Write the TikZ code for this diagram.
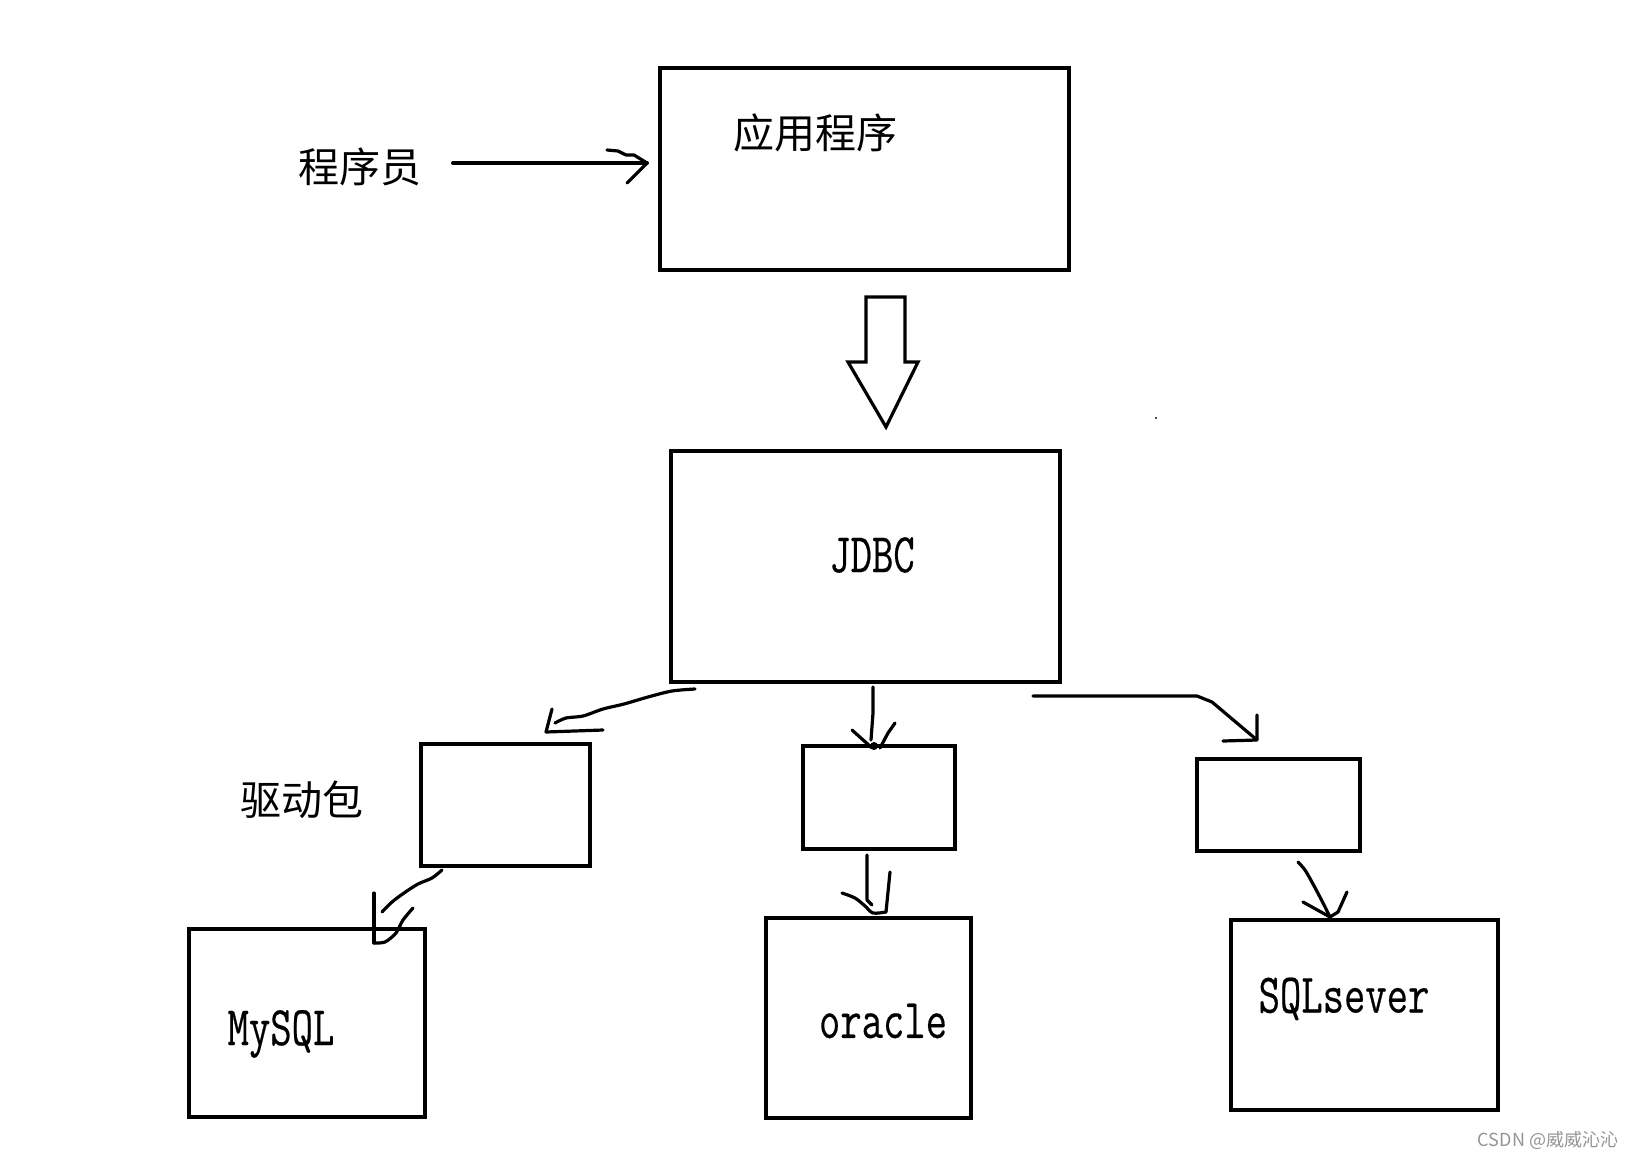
\documentclass[tikz,border=0pt]{standalone}
\usepackage{fontspec}
\newfontfamily\cjk{Noto Sans CJK SC}
\newfontfamily\latn[FakeStretch=0.74,FakeBold=0.35]{Latin Modern Mono}
\usetikzlibrary{fit}
\tikzset{
  box/.style={draw=black,line width=2.3pt,inner sep=0pt,fill=none},
  hand/.style={draw=black,line width=1.6pt,line cap=round,line join=round},
  cjklabel/.style={inner sep=0pt,font=\cjk\fontsize{20.5pt}{24pt}\selectfont},
  latlabel/.style={inner sep=0pt,font=\latn\fontsize{28pt}{32pt}\selectfont},
}
\begin{document}
\begin{tikzpicture}[x=0.5pt,y=-0.5pt]
\useasboundingbox (0,0) rectangle (1632,1157);
% boxes
\node[box,fit={(660,68) (1069,270)}] (app) {};
\node[box,fit={(671,451) (1060,682)}] (jdbc) {};
\node[box,fit={(421,744) (590,866)}] (drvL) {};
\node[box,fit={(803,746) (955,849)}] (drvM) {};
\node[box,fit={(1197,759) (1360,851)}] (drvR) {};
\node[box,fit={(189,929) (425,1117)}] (mysql) {};
\node[box,fit={(766,918) (971,1118)}] (oracle) {};
\node[box,fit={(1231,920) (1498,1110)}] (sqls) {};
% labels
\node[cjklabel] (tapp) at (815,133) {应用程序};
\node[cjklabel] (tprog) at (360,167) {程序员};
\node[cjklabel] (tdrv) at (302,800) {驱动包};
\node[latlabel] (tjdbc) at (872,555) {JDBC};
\node[latlabel] (tmysql) at (281,1034) {MySQL};
\node[latlabel] (toracle) at (883,1021) {oracle};
\node[latlabel] (tsqls) at (1344,999) {SQLsever};
\node[inner sep=0pt,text=black!42,font=\cjk\fontsize{9pt}{11pt}\selectfont] (wm) at (1548,1140) {CSDN @威威沁沁};
% programmer -> application
\coordinate (pa) at (453,163);
\coordinate (pb) at (647,163);
\draw[hand,line width=2pt] (pa) -- (pb);
\draw[hand] (607,150) -- (618,151) -- (626,155) -- (634,155) -- (pb) -- (638,172) -- (627,183);
% block arrow app -> jdbc
\draw[line width=1.6pt,line join=miter,fill=white] (866,297) -- (905,297) -- (905,362) -- (918,362) -- (886,427) -- (848,362) -- (866,362) -- cycle;
% stray dot
\fill[black!70] (1155,417) rectangle (1157,419);
% jdbc -> left driver
\draw[hand] plot[smooth] coordinates {(695,689) (672,691) (648,697) (624,704) (603,709) (583,716) (566,718) (555,723)};
\draw[hand] (552,709) -- (546,732) -- (603,730);
% jdbc -> middle driver
\draw[hand] (873,687) -- (873,713) -- (871,740);
\draw[hand] (852,730) -- (872,748);
\draw[hand] (895,723) -- (888,733) -- (880,748);
\fill (874,746) circle (4);
% jdbc -> right driver
\draw[hand] (1033,696) -- (1197,696) -- (1212,702) -- (1257,740);
\draw[hand] (1257,715) -- (1257,740) -- (1223,741);
% left driver -> mysql
\draw[hand] plot[smooth] coordinates {(442,870) (432,878) (418,884) (404,893) (392,902) (382,912)};
\draw[hand] (374,893) -- (374,943);
\draw[hand] plot[smooth] coordinates {(374,943) (385,942) (396,933) (403,920) (413,908)};
% middle driver -> oracle
\draw[hand] (867,855) -- (867,900) -- (872,905);
\draw[hand] (890,872) -- (886,912);
\draw[hand] plot[smooth] coordinates {(842,893) (855,898) (865,906) (873,913) (886,912)};
% right driver -> sqlserver
\draw[hand] plot[smooth] coordinates {(1298,862) (1305,870) (1313,884) (1322,901) (1330,917)};
\draw[hand] (1303,902) -- (1330,917);
\draw[hand] (1347,892) -- (1338,912) -- (1330,917);
\end{tikzpicture}
\end{document}
